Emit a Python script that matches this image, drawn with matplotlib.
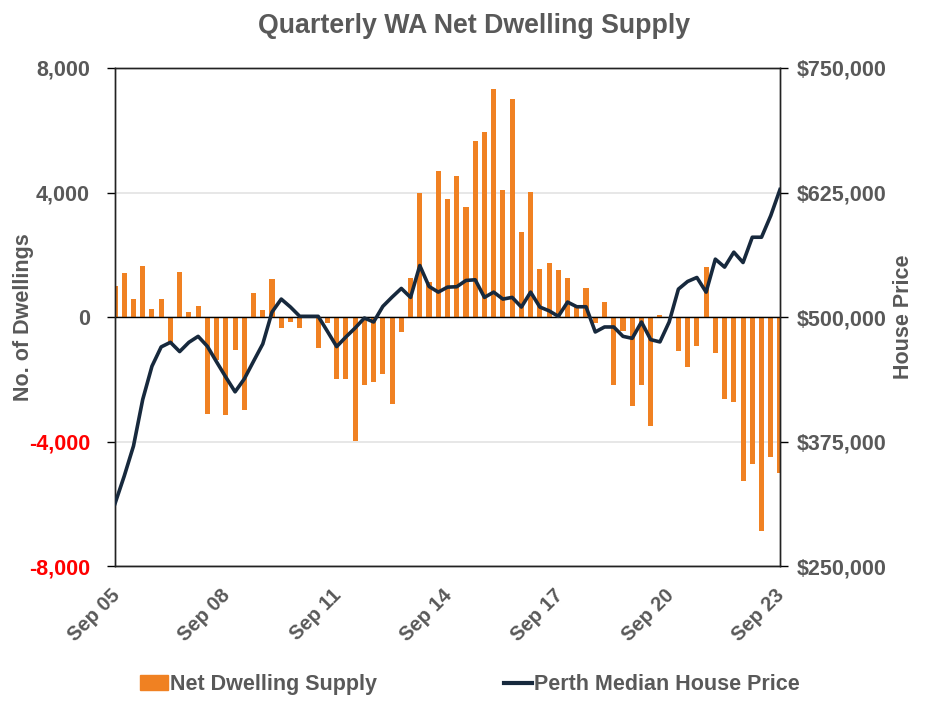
import matplotlib
matplotlib.use("Agg")
import matplotlib.pyplot as plt
import matplotlib.transforms as mtrans
import numpy as np
from matplotlib.patches import Patch
from matplotlib.lines import Line2D

# quarterly, Sep 2005 .. Sep 2023 (73 quarters)
supply = [
    1000, 1400, 570, 1630, 260, 590, -830, 1460, 150, 350,
    -3130, -1370, -3160, -1050, -2980, 770, 235, 1230, -350, -170,
    -350, -30, -990, -190, -2000, -1990, -3990, -2170, -2090, -1820,
    -2780, -490, 1250, 3970, 1140, 4700, 3790, 4520, 3550, 5660,
    5950, 7310, 4080, 6990, 2740, 4030, 1540, 1730, 1500, 1250,
    400, 920, -190, 470, -2170, -460, -2860, -2190, -3500, 60,
    -30, -1080, -1600, -940, 1600, -1150, -2620, -2720, -5270, -4710,
    -6870, -4500, -5000,
]
price = [
    312700, 340400, 370500, 417200, 450600, 470000, 474600, 465300, 474600, 480600,
    470600, 454900, 439600, 424900, 437900, 455600, 473000, 505000, 518000, 510000,
    500700, 500700, 500700, 485600, 470300, 480000, 489000, 499000, 495000, 510700,
    520000, 528700, 519700, 551700, 530700, 525000, 530000, 530400, 536700, 537400,
    519700, 525000, 518000, 519700, 510000, 525000, 510000, 506200, 500700, 515000,
    510300, 510300, 485000, 490000, 490000, 480600, 478600, 495000, 477300, 475000,
    495000, 528000, 535700, 539700, 525000, 558100, 550100, 565100, 554700, 580100,
    580100, 601800, 628000,
]
tick_pos = [0, 12, 24, 36, 48, 60, 72]
tick_labels = ["Sep 05", "Sep 08", "Sep 11", "Sep 14", "Sep 17", "Sep 20", "Sep 23"]
left_ticks = [-8000, -4000, 0, 4000, 8000]
right_ticks = [250000, 375000, 500000, 625000, 750000]

ORANGE = "#F08122"
NAVY = "#17293D"
GREY = "#595959"

plt.rcParams["font.family"] = ["Liberation Sans", "DejaVu Sans"]
plt.rcParams["font.weight"] = "bold"

fig = plt.figure(figsize=(9.29, 7.12), dpi=100)
ax = fig.add_axes([0.1238, 0.205, 0.7158, 0.6995])
ax2 = ax.twinx()

x = np.arange(len(supply))
ax.bar(x, supply, width=0.55, color=ORANGE, zorder=2)
ax.axhline(0, color="black", lw=1, zorder=3)
ax.set_xlim(0, len(supply) - 1)
ax.set_ylim(-8000, 8000)
ax.set_yticks(left_ticks)
ax.set_yticklabels([f"{v:,.0f}" for v in left_ticks])
for lab, v in zip(ax.get_yticklabels(), left_ticks):
    lab.set_color("red" if v < 0 else GREY)
ax.yaxis.grid(True, color="#E3E3E3", lw=1.2, zorder=0)
ax.set_axisbelow(True)
ax.tick_params(axis="y", labelsize=15.5, length=6, width=1, direction="out", pad=12)
ax.set_ylabel("No. of Dwellings", fontsize=15.5, color=GREY, fontweight="bold")
ax.yaxis.set_label_coords(-0.122, 0.5)

ax.set_xticks(tick_pos)
ax.set_xticklabels(tick_labels, rotation=45, ha="right", rotation_mode="anchor",
                   fontsize=14.5, color=GREY, fontweight="bold")
ax.tick_params(axis="x", length=0, pad=14)
shift = mtrans.ScaledTranslation(-5 / 100, 0, fig.dpi_scale_trans)
for lab in ax.get_xticklabels():
    lab.set_transform(lab.get_transform() + shift)

ax2.plot(x, price, color=NAVY, lw=2.6, zorder=4)
ax2.set_ylim(250000, 750000)
ax2.set_yticks(right_ticks)
ax2.set_yticklabels([f"${v:,.0f}" for v in right_ticks], color=GREY)
ax2.tick_params(axis="y", labelsize=15.5, length=6, width=1, direction="out", pad=6)
ax2.set_ylabel("House Price", fontsize=15.5, color=GREY, fontweight="bold")
ax2.yaxis.set_label_coords(1.170, 0.5)

for a in (ax, ax2):
    for s in a.spines.values():
        s.set_color("#222222")
        s.set_linewidth(1)

fig.suptitle("Quarterly WA Net Dwelling Supply", x=0.51, y=0.982, fontsize=19.3,
             color=GREY, fontweight="bold")

handles = [Patch(facecolor=ORANGE, edgecolor=ORANGE),
           Line2D([0], [0], color=NAVY, lw=3)]
fig.legend(handles, ["Net Dwelling Supply", "Perth Median House Price"],
           loc="center", bbox_to_anchor=(0.506, 0.038), ncol=2, frameon=False,
           fontsize=15.5, labelcolor=GREY, columnspacing=5.9, handlelength=1.3,
           handletextpad=0.1)

fig.savefig("out.png", dpi=100)
